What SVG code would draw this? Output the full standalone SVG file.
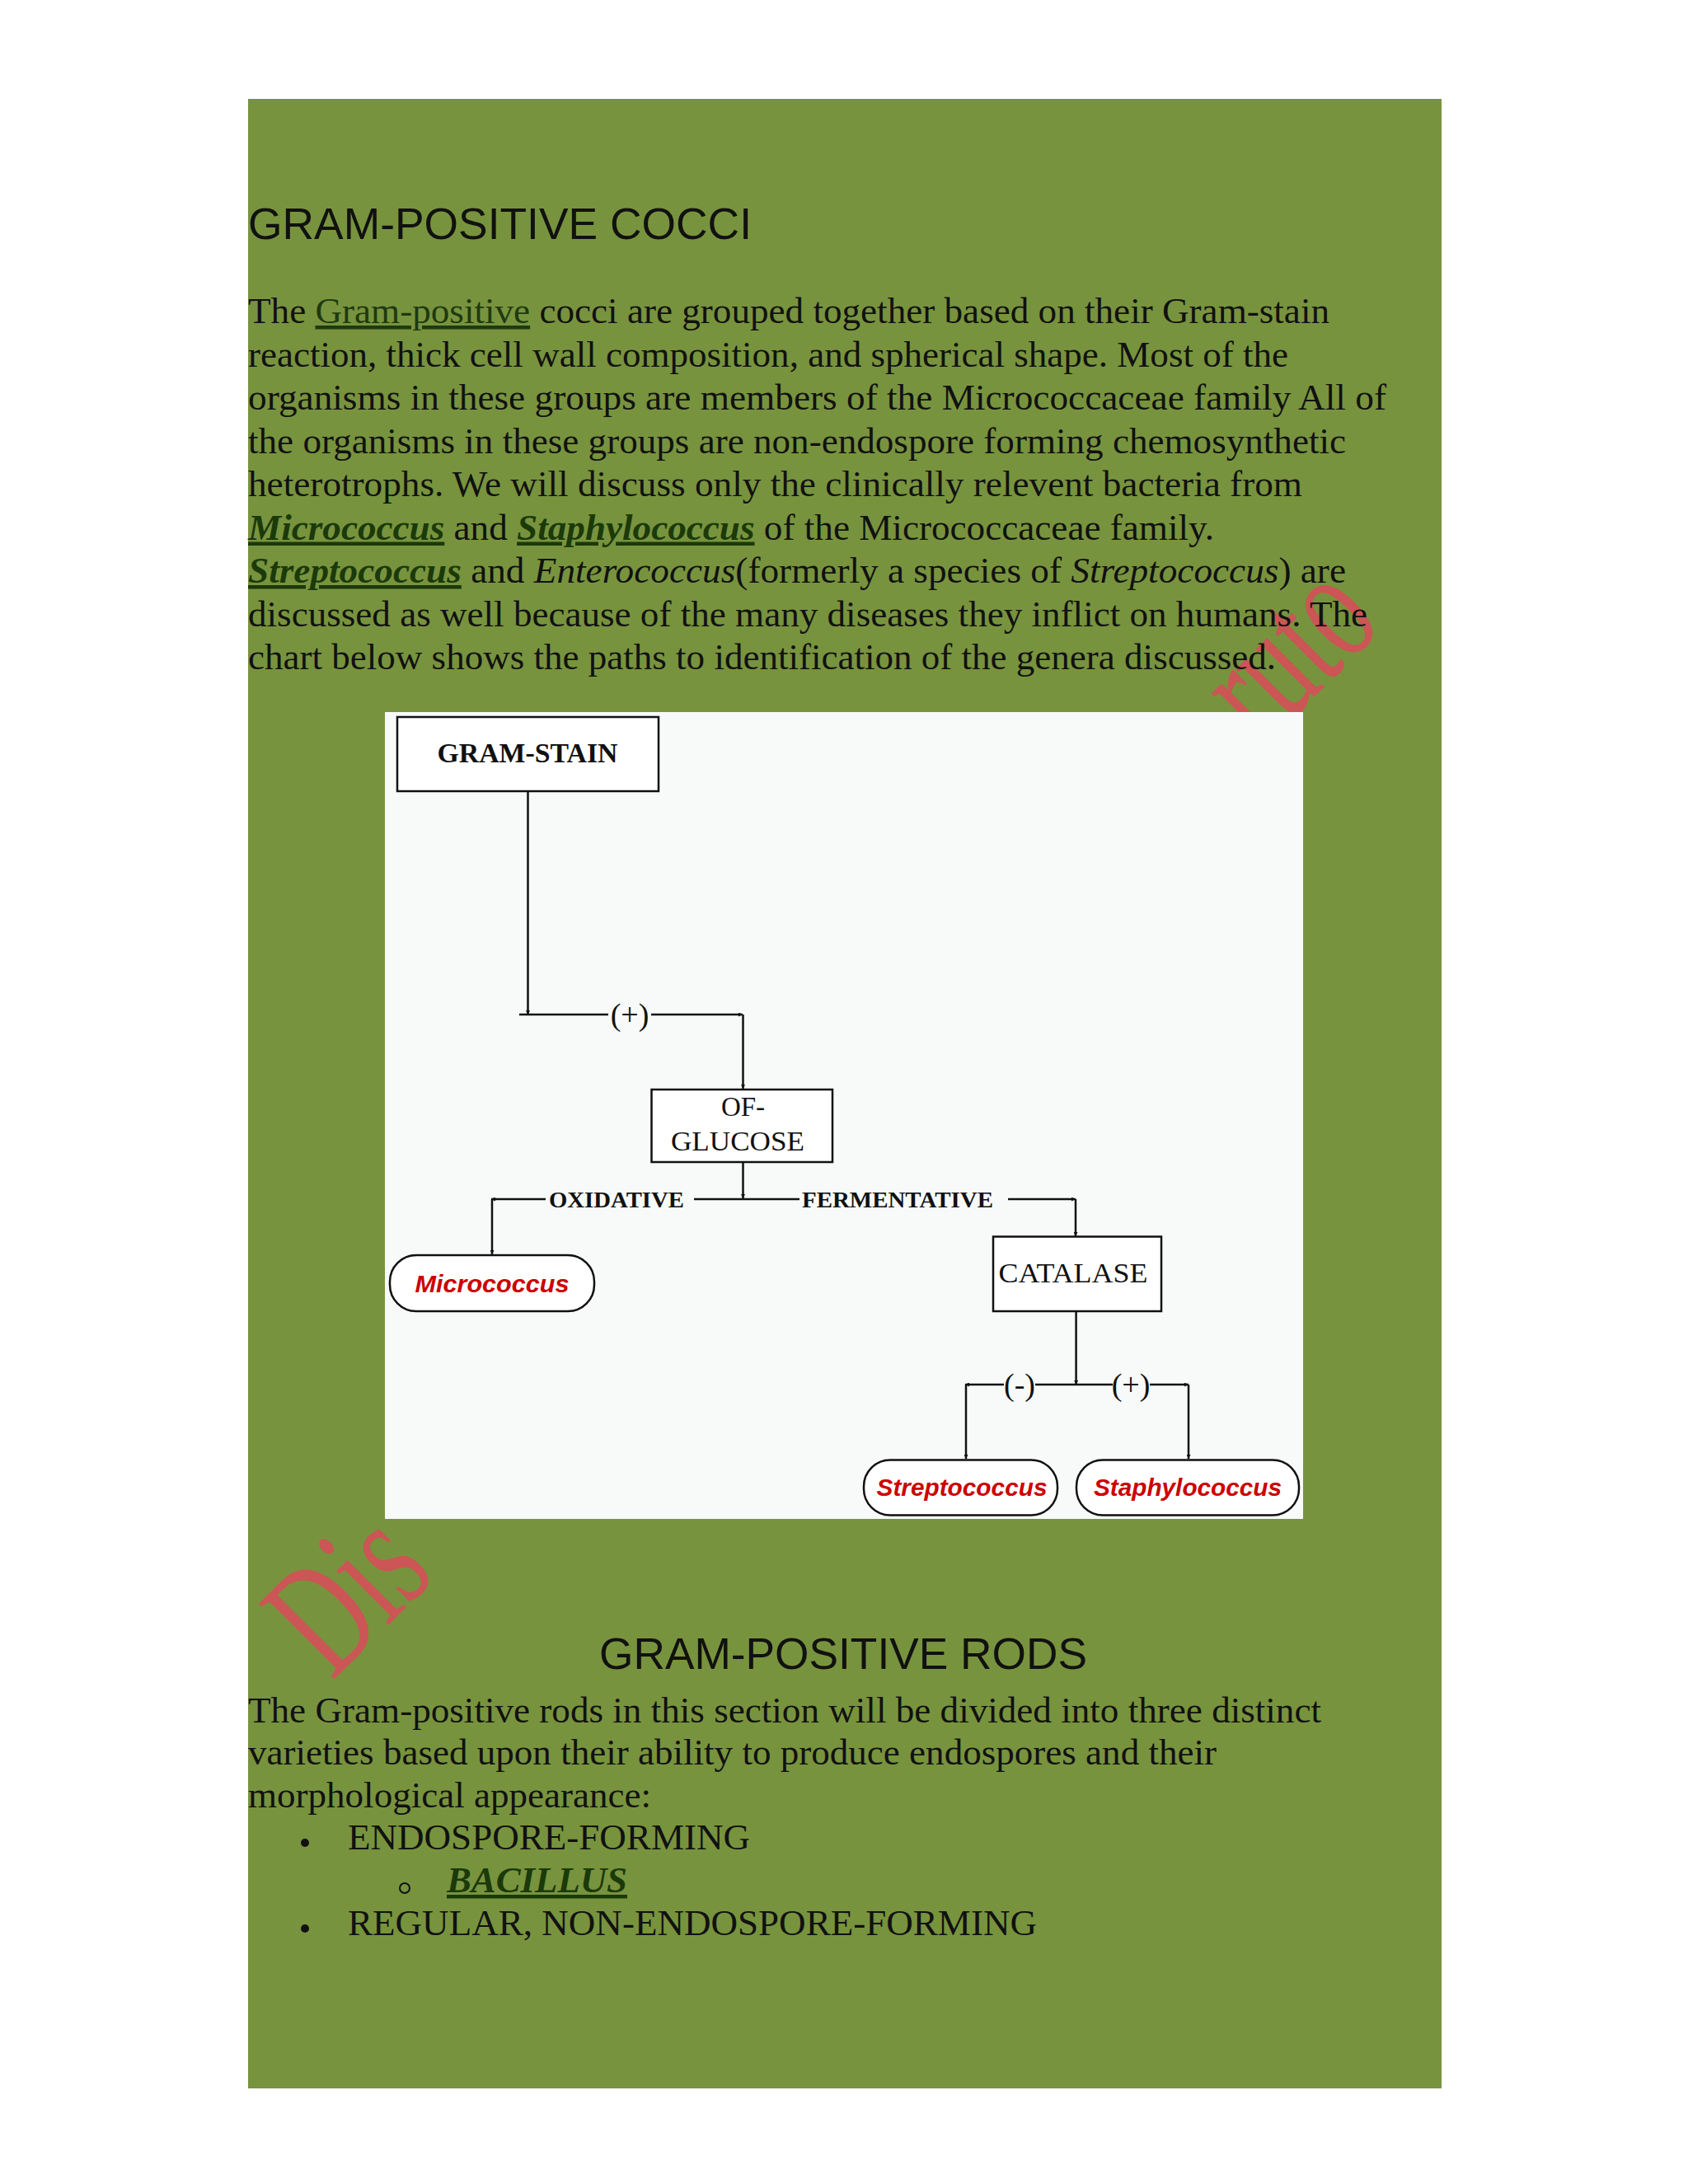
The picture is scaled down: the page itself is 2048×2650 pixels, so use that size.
<svg xmlns="http://www.w3.org/2000/svg" width="2048" height="2650" viewBox="0 0 2048 2650">
<style>
.body{font-family:"Liberation Serif","Times New Roman",serif;font-size:45px;fill:#111}
.head{font-family:"Liberation Sans",Arial,sans-serif;font-size:54px;fill:#111}
.lnk{fill:#1b3a0a;font-weight:bold;font-style:italic;text-decoration:underline}
.lnk2{fill:#1e3a10;text-decoration:underline}
.it{font-style:italic}
.wm{font-family:"Liberation Serif","Times New Roman",serif;font-size:198px;fill:#cc5555}
.box{fill:#fff;stroke:#111;stroke-width:2.5}
.pill{fill:#fff;stroke:#111;stroke-width:2.5}
.lbl{font-family:"Liberation Serif","Times New Roman",serif;fill:#111;text-anchor:middle;dominant-baseline:central}
.org{font-family:"Liberation Sans",Arial,sans-serif;font-weight:bold;font-style:italic;font-size:30px;fill:#cc0000;text-anchor:middle;dominant-baseline:central}
.ln{stroke:#111;stroke-width:2.5;fill:none}
.ar{marker-end:url(#ah)}
</style>
<defs>
<marker id="ah" viewBox="0 0 10 10" refX="10" refY="5" markerWidth="5" markerHeight="5" orient="auto" markerUnits="userSpaceOnUse"><path d="M0,0L10,5L0,10z" fill="#111"/></marker>
</defs>
<rect width="2048" height="2650" fill="#fff"/>
<rect x="301" y="120" width="1448" height="2414" fill="#78933e"/>
<text class="wm" transform="translate(403,2040) rotate(-45)" textLength="180" lengthAdjust="spacingAndGlyphs">Dis</text>
<text class="wm" transform="translate(1532,908) rotate(-45)" textLength="209" lengthAdjust="spacingAndGlyphs">ruto</text>
<text class="head" x="301" y="290" textLength="611" lengthAdjust="spacingAndGlyphs">GRAM-POSITIVE COCCI</text>
<g class="body">
<text x="301" y="392" textLength="1312" lengthAdjust="spacingAndGlyphs">The <tspan class="lnk2">Gram-positive</tspan> cocci are grouped together based on their Gram-stain</text>
<text x="301" y="444.5" textLength="1262" lengthAdjust="spacingAndGlyphs">reaction, thick cell wall composition, and spherical shape. Most of the</text>
<text x="301" y="497" textLength="1381" lengthAdjust="spacingAndGlyphs">organisms in these groups are members of the Micrococcaceae family All of</text>
<text x="301" y="549.5" textLength="1332" lengthAdjust="spacingAndGlyphs">the organisms in these groups are non-endospore forming chemosynthetic</text>
<text x="301" y="602" textLength="1279" lengthAdjust="spacingAndGlyphs">heterotrophs. We will discuss only the clinically relevent bacteria from</text>
<text x="301" y="654.5" textLength="1172" lengthAdjust="spacingAndGlyphs"><tspan class="lnk">Micrococcus</tspan> and <tspan class="lnk">Staphylococcus</tspan> of the Micrococcaceae family.</text>
<text x="301" y="707" textLength="1332" lengthAdjust="spacingAndGlyphs"><tspan class="lnk">Streptococcus</tspan> and <tspan class="it">Enterococcus</tspan>(formerly a species of <tspan class="it">Streptococcus</tspan>) are</text>
<text x="301" y="759.5" textLength="1358" lengthAdjust="spacingAndGlyphs">discussed as well because of the many diseases they inflict on humans. The</text>
<text x="301" y="812" textLength="1247" lengthAdjust="spacingAndGlyphs">chart below shows the paths to identification of the genera discussed.</text>
</g>
<rect x="467" y="864" width="1114" height="979" fill="#f7faf8"/>
<g id="connectors">
<line class="ln ar" x1="640.5" y1="960" x2="640.5" y2="1231"/>
<line class="ln" x1="630" y1="1231" x2="738" y2="1231"/>
<line class="ln ar" x1="790" y1="1231" x2="901" y2="1231"/>
<line class="ln ar" x1="901.5" y1="1231" x2="901.5" y2="1321"/>
<line class="ln ar" x1="901.5" y1="1410" x2="901.5" y2="1454"/>
<line class="ln" x1="842" y1="1455" x2="970" y2="1455"/>
<line class="ln ar" x1="662" y1="1455" x2="596" y2="1455"/>
<line class="ln ar" x1="597" y1="1455" x2="597" y2="1522"/>
<line class="ln ar" x1="1223" y1="1455" x2="1305" y2="1455"/>
<line class="ln ar" x1="1305" y1="1455" x2="1305" y2="1500"/>
<line class="ln ar" x1="1305.6" y1="1591" x2="1305.6" y2="1680"/>
<line class="ln" x1="1256" y1="1680" x2="1350" y2="1680"/>
<line class="ln ar" x1="1218" y1="1680" x2="1171" y2="1680"/>
<line class="ln ar" x1="1172" y1="1680" x2="1172" y2="1770"/>
<line class="ln ar" x1="1395" y1="1680" x2="1442" y2="1680"/>
<line class="ln ar" x1="1442" y1="1680" x2="1442" y2="1770"/>
<text class="lbl" x="764" y="1231" font-size="38">(+)</text>
<text class="lbl" x="748" y="1455" font-size="28" font-weight="bold" textLength="164" lengthAdjust="spacingAndGlyphs">OXIDATIVE</text>
<text class="lbl" x="1089" y="1455" font-size="28" font-weight="bold" textLength="232" lengthAdjust="spacingAndGlyphs">FERMENTATIVE</text>
<text class="lbl" x="1237" y="1680" font-size="38">(-)</text>
<text class="lbl" x="1372" y="1680" font-size="38">(+)</text>
</g>
<g id="gram-stain"><rect class="box" x="482" y="870" width="317" height="90"/><text class="lbl" x="640" y="913" font-size="34" font-weight="bold" textLength="219" lengthAdjust="spacingAndGlyphs">GRAM-STAIN</text></g>
<g id="of-glucose"><rect class="box" x="790.5" y="1322" width="219.5" height="88"/><text class="lbl" x="901.5" y="1343" font-size="33">OF-</text><text class="lbl" x="895" y="1385" font-size="33" textLength="162" lengthAdjust="spacingAndGlyphs">GLUCOSE</text></g>
<g id="micrococcus"><rect class="pill" x="473" y="1523" width="248" height="68" rx="32"/><text class="org" x="597" y="1557" textLength="187" lengthAdjust="spacingAndGlyphs">Micrococcus</text></g>
<g id="catalase"><rect class="box" x="1205" y="1500.5" width="204" height="90.5"/><text class="lbl" x="1302" y="1545" font-size="33" textLength="181" lengthAdjust="spacingAndGlyphs">CATALASE</text></g>
<g id="streptococcus"><rect class="pill" x="1048" y="1771.5" width="235" height="67" rx="32"/><text class="org" x="1167" y="1804" textLength="207" lengthAdjust="spacingAndGlyphs">Streptococcus</text></g>
<g id="staphylococcus"><rect class="pill" x="1306" y="1771.5" width="270" height="67" rx="32"/><text class="org" x="1441" y="1804" textLength="228" lengthAdjust="spacingAndGlyphs">Staphylococcus</text></g>
<text class="head" x="727" y="2025" textLength="592" lengthAdjust="spacingAndGlyphs">GRAM-POSITIVE RODS</text>
<g class="body">
<text x="301" y="2090" textLength="1302" lengthAdjust="spacingAndGlyphs">The Gram-positive rods in this section will be divided into three distinct</text>
<text x="301" y="2141" textLength="1175" lengthAdjust="spacingAndGlyphs">varieties based upon their ability to produce endospores and their</text>
<text x="301" y="2193" textLength="489" lengthAdjust="spacingAndGlyphs">morphological appearance:</text>
<circle cx="370" cy="2236" r="5" fill="#111"/>
<text x="422" y="2244" textLength="488" lengthAdjust="spacingAndGlyphs">ENDOSPORE-FORMING</text>
<circle cx="491" cy="2291" r="6" fill="none" stroke="#111" stroke-width="2"/>
<text x="542" y="2296" class="lnk" textLength="219" lengthAdjust="spacingAndGlyphs">BACILLUS</text>
<circle cx="370" cy="2340" r="5" fill="#111"/>
<text x="422" y="2348" textLength="836" lengthAdjust="spacingAndGlyphs">REGULAR, NON-ENDOSPORE-FORMING</text>
</g>
</svg>
